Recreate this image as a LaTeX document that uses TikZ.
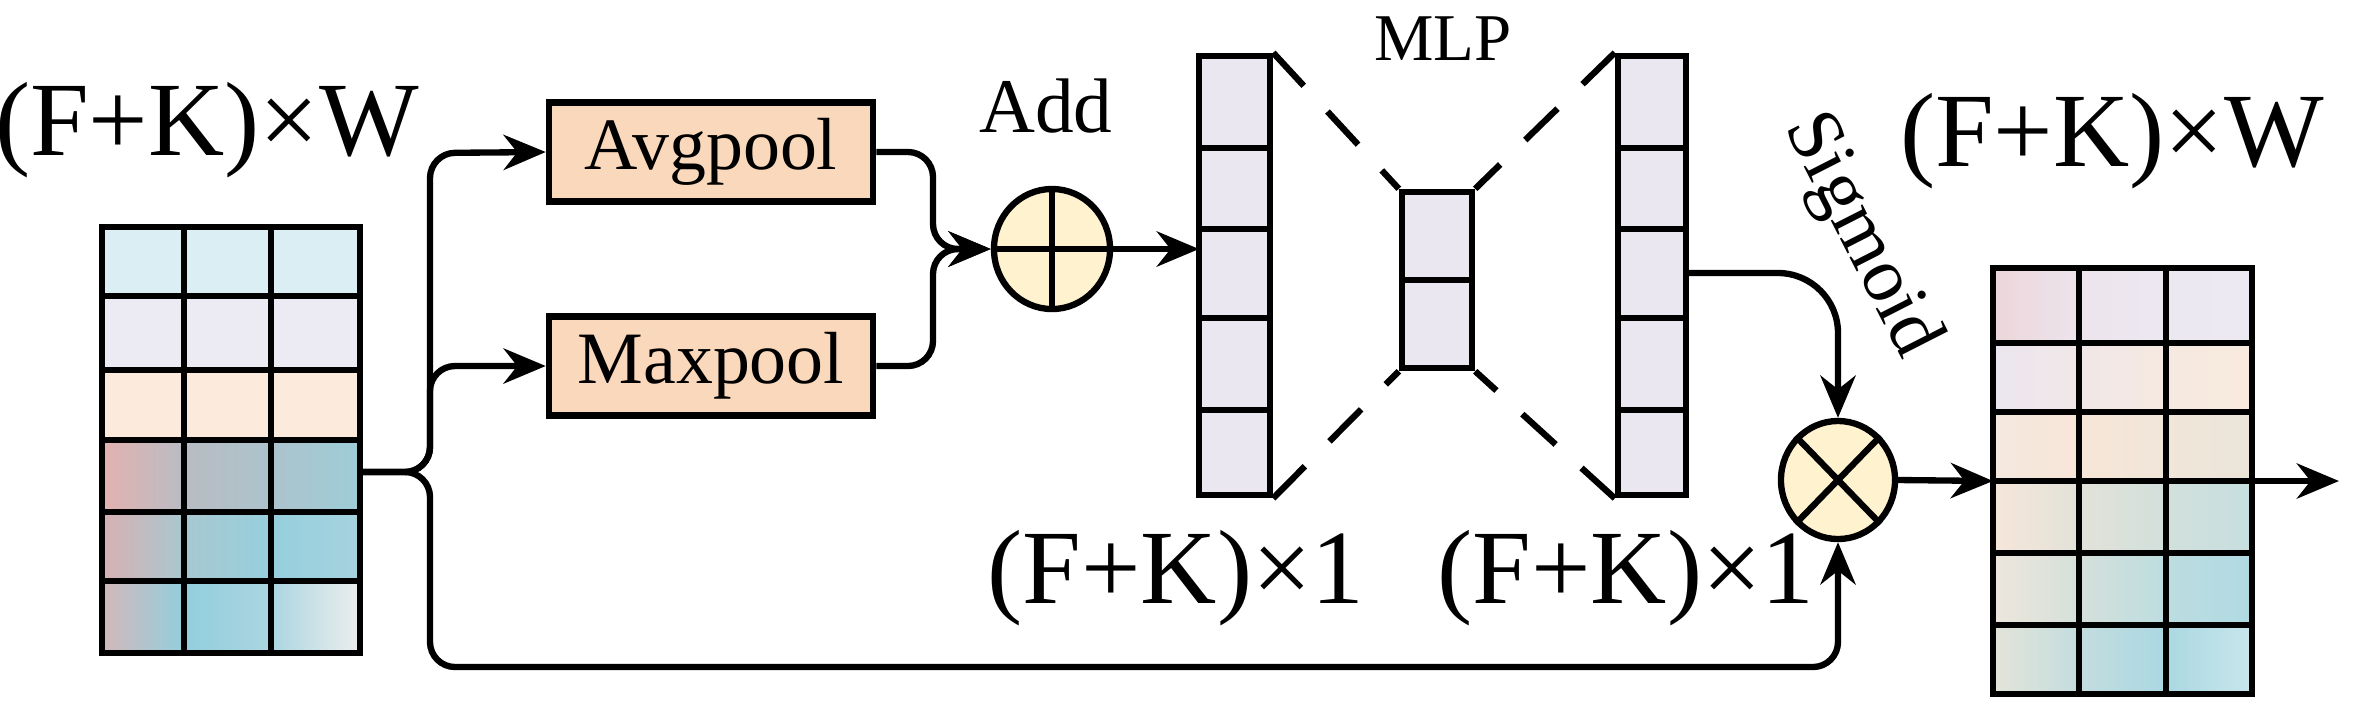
\documentclass[tikz,border=0pt]{standalone}
\usepackage{fontspec}
\setmainfont{Liberation Serif}
\usetikzlibrary{arrows.meta,shapes.geometric}
\begin{document}
\begin{tikzpicture}[x=0.01cm,y=-0.01cm,
  line width=1.8pt,
  arr/.style={-{Stealth[length=12pt,width=10pt]}},
  conn/.style={rounded corners=0.25cm},
  pool/.style={draw,fill=poolc,minimum width=3.24cm,minimum height=0.99cm,inner sep=0,font=\fontsize{21}{21}\selectfont},
  op/.style={draw,ellipse,fill=opc,minimum width=1.16cm,minimum height=1.2cm,inner sep=0},
  col/.style={draw,fill=colc},
  big/.style={font=\fontsize{30}{30}\selectfont},
  lab/.style={font=\fontsize{22}{22}\selectfont}]
\definecolor{poolc}{HTML}{FAD8BC}
\definecolor{opc}{HTML}{FFF2CE}
\definecolor{colc}{HTML}{EAE7F1}
\useasboundingbox (0,0) rectangle (2360,726);
% left grid
\def\ly{{227,296,370,440,512,581,653}}
\foreach \r/\ca/\cb/\cc/\cd in {0/DAEEF3/DAEEF3/DAEEF3/DAEEF3,1/ECEAF2/ECEAF2/ECEAF2/ECEAF2,2/FCEBDD/FCEBDD/FCEBDD/FCEBDD,3/E3B2B0/B9BCC3/ACC3CC/9ECDD8,4/D8B0B2/A8C8D0/96CFDD/A5D3DE,5/D3B8BA/93CEDD/AAD6E0/EDEEEE}{
  \definecolor{a}{HTML}{\ca}\definecolor{b}{HTML}{\cb}\definecolor{c}{HTML}{\cc}\definecolor{d}{HTML}{\cd}
  \pgfmathsetmacro\ya{\ly[\r]}\pgfmathsetmacro\yb{\ly[\r+1]}
  \shade[left color=a,right color=b] (102,\ya) rectangle (184,\yb);
  \shade[left color=b,right color=c] (184,\ya) rectangle (271,\yb);
  \shade[left color=c,right color=d] (271,\ya) rectangle (360,\yb);
}
\node[draw,minimum width=2.58cm,minimum height=4.26cm,inner sep=0] (inL) at (231,440) {};
\foreach \x in {184,271} \draw (\x,227) -- (\x,653);
\foreach \y in {296,370,440,512,581} \draw (102,\y) -- (360,\y);
% right grid
\def\ry{{268,343,412,481,553,625,694}}
\foreach \r/\ca/\cb/\cc/\cd in {0/EBD6DA/EDE4EC/ECE8F1/EDE9F2,1/EBE6EF/F1E7E8/F6E9E1/F8EADD,2/F5E8DF/F7E6D8/F0E6D9/EBE5DA,3/F6E6DA/E2E2D9/D2E0DC/C6DFDF,4/EDE6DC/D5E0DB/BDDDE0/AFDAE2,5/E4E4D9/C3DDDF/ABD8E2/C8E6EC}{
  \definecolor{a}{HTML}{\ca}\definecolor{b}{HTML}{\cb}\definecolor{c}{HTML}{\cc}\definecolor{d}{HTML}{\cd}
  \pgfmathsetmacro\ya{\ry[\r]}\pgfmathsetmacro\yb{\ry[\r+1]}
  \shade[left color=a,right color=b] (1993,\ya) rectangle (2079,\yb);
  \shade[left color=b,right color=c] (2079,\ya) rectangle (2166,\yb);
  \shade[left color=c,right color=d] (2166,\ya) rectangle (2252,\yb);
}
\node[draw,minimum width=2.59cm,minimum height=4.26cm,inner sep=0] (outG) at (2122.5,481) {};
\foreach \x in {2079,2166} \draw (\x,268) -- (\x,694);
\foreach \y in {343,412,481,553,625} \draw (1993,\y) -- (2252,\y);
% titles
\node[big] (t1) at (207,130) {(F+K)×W};
\node[big] (t2) at (2112,141) {(F+K)×W};
% pools
\node[pool] (avg) at (711,152) {Avgpool};
\node[pool] (max) at (711,366) {Maxpool};
% add
\node[op] (add) at (1052,249) {};
\draw (add.north) -- (add.south) (add.west) -- (add.east);
\node[lab] (addl) at (1046,106) {Add};
% MLP columns
\node[col,minimum width=0.71cm,minimum height=4.39cm,inner sep=0] (c1) at (1234.5,275.5) {};
\node[col,minimum width=0.7cm,minimum height=1.76cm,inner sep=0] (c2) at (1437,280) {};
\node[col,minimum width=0.68cm,minimum height=4.39cm,inner sep=0] (c3) at (1652,275.5) {};
\foreach \y in {148,229,318,410} {\draw (1199,\y) -- (1270,\y); \draw (1618,\y) -- (1686,\y);}
\draw (1402,280) -- (1472,280);
\draw[dash pattern=on 0.45cm off 0.35cm] (c1.north east) -- (c2.north west);
\draw[dash pattern=on 0.45cm off 0.35cm] (c1.south east) -- (c2.south west);
\draw[dash pattern=on 0.45cm off 0.35cm] (c3.north west) -- (c2.north east);
\draw[dash pattern=on 0.45cm off 0.35cm] (c3.south west) -- (c2.south east);
\node[font=\fontsize{19}{19}\selectfont] (mlp) at (1443,39) {MLP};
\node[big] (k1) at (1176,578) {(F+K)×1};
\node[big] (k2) at (1626,578) {(F+K)×1};
% multiply
\node[op,minimum width=1.14cm,minimum height=1.18cm] (mul) at (1838,480) {};
\draw (mul.north west) -- (mul.south east) (mul.north east) -- (mul.south west);
\node[lab,rotate=-63] (sig) at (1860,236) {Sigmoid};
% connectors
\coordinate (sp) at (360,472);
\draw[arr,conn] (sp) -- (430,472) -- (430,153) -- (avg.west);
\draw[arr,conn] (sp) -- (430,472) -- (430,366) -- (max.west);
\draw[arr,conn] (sp) -- (430,472) -- (430,667) -- (1838,667) -- (mul.south);
\draw[arr,conn] (avg.east) -- (933,152) -- (933,249) -- (add.west);
\draw[arr,conn] (max.east) -- (933,366) -- (933,249) -- (add.west);
\draw[arr] (add.east) -- (1199,249);
\draw[arr,rounded corners=0.6cm] (1686,273) -- (1838,273) -- (mul.north);
\draw[arr] (mul.east) -- (1993,481);
\coordinate (end) at (2339,481);
\draw[arr] (2252,481) -- (end);
\end{tikzpicture}
\end{document}
